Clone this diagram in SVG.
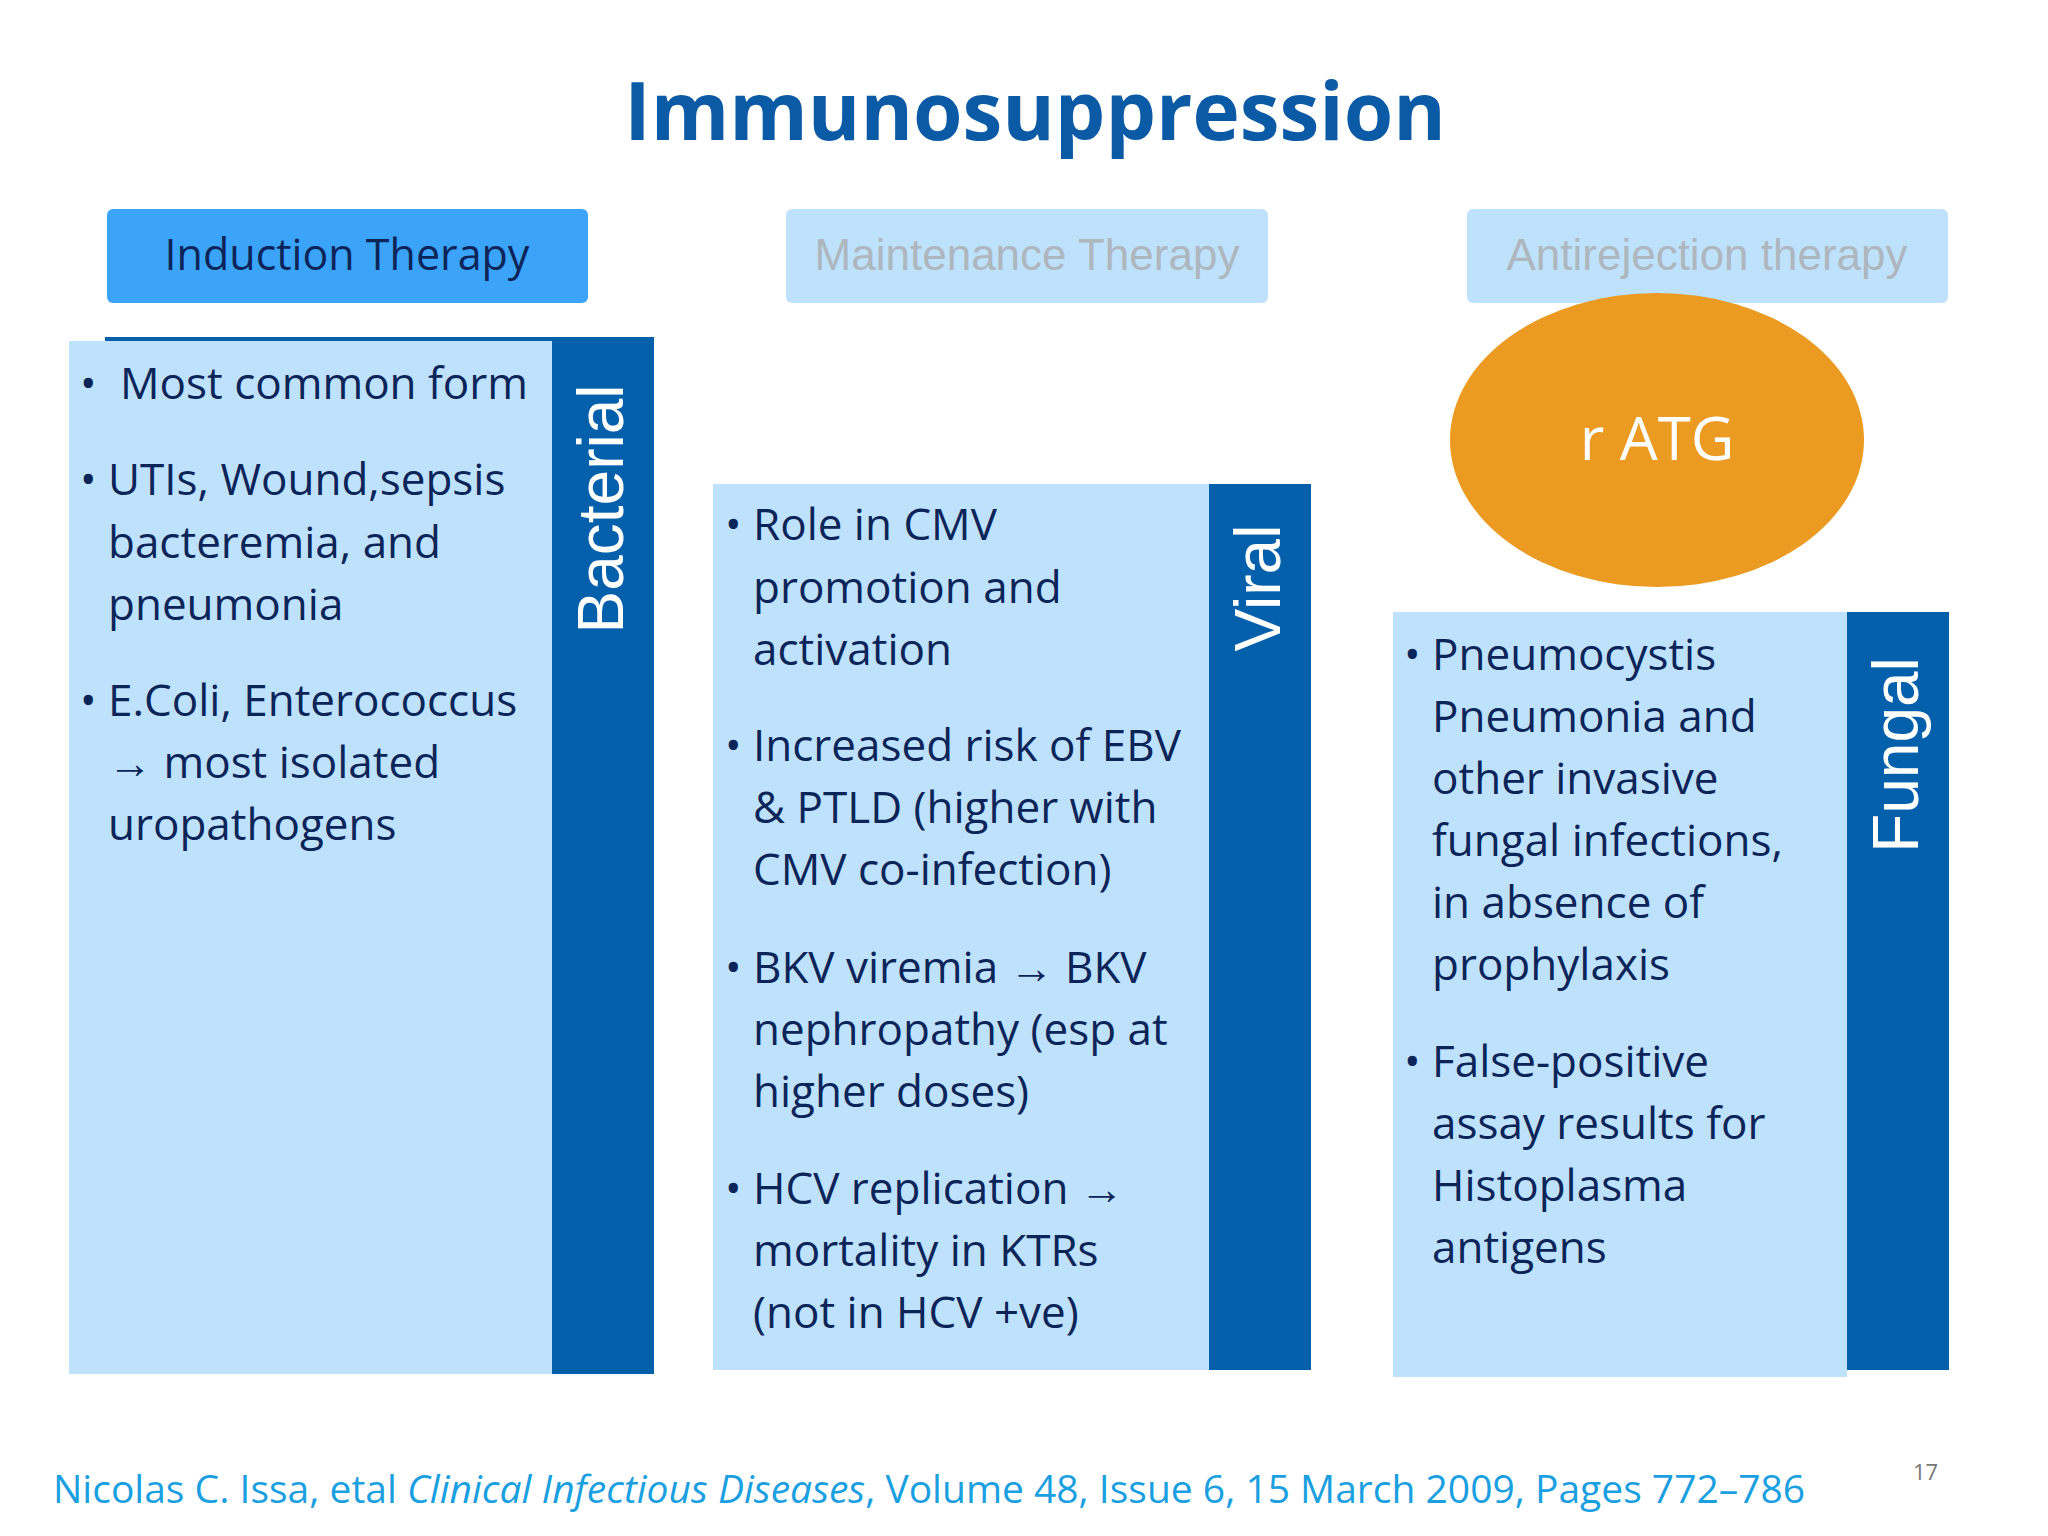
<svg xmlns="http://www.w3.org/2000/svg" width="2048" height="1536" viewBox="0 0 2048 1536">
<style>
.t{font-family:"Open Sans","Noto Sans",sans-serif;font-size:44px;fill:#0c2559}
.v{font-family:"Liberation Sans",Arial,sans-serif;font-size:64px;fill:#fff}
.h{font-family:"Liberation Sans",Arial,sans-serif;font-size:44px;fill:#aeb6be}
.lt{fill:#bfe2fc}.dk{fill:#0560ac}
</style>
<rect width="2048" height="1536" fill="#fff"/>
<text x="1035" y="140" text-anchor="middle" font-family="Open Sans,Noto Sans,sans-serif" font-weight="bold" font-size="80" fill="#0b5aa5">Immunosuppression</text>
<g id="induction"><rect x="107" y="209" width="481" height="94" rx="6" fill="#3ba4f8"/><text x="347" y="270" text-anchor="middle" class="t" style="font-size:43px">Induction Therapy</text></g>
<g id="maintenance"><rect x="786" y="209" width="482" height="94" rx="6" class="lt"/><text x="1027" y="270" text-anchor="middle" class="h">Maintenance Therapy</text></g>
<g id="antirejection"><rect x="1467" y="209" width="481" height="94" rx="6" class="lt"/><text x="1707" y="270" text-anchor="middle" class="h">Antirejection therapy</text></g>
<g id="ratg"><ellipse cx="1657" cy="440" rx="207" ry="147" fill="#eb9b22"/><text x="1657" y="460" text-anchor="middle" font-family="Open Sans,Noto Sans,sans-serif" font-size="60" fill="#fff">r ATG</text></g>
<g id="bacterial">
<rect x="69" y="341" width="483" height="1033" class="lt"/>
<rect x="105" y="337" width="549" height="4" class="dk"/>
<rect x="552" y="338" width="102" height="1036" class="dk"/>
<text class="v" transform="translate(623,509) rotate(-90)" text-anchor="middle">Bacterial</text>
<text class="t"><tspan x="80" y="399">•</tspan><tspan x="120" y="399">Most common form</tspan>
<tspan x="80" y="495">•</tspan><tspan x="108" y="495">UTIs, Wound,sepsis</tspan><tspan x="108" y="558">bacteremia, and</tspan><tspan x="108" y="620">pneumonia</tspan>
<tspan x="80" y="716">•</tspan><tspan x="108" y="716">E.Coli, Enterococcus</tspan><tspan x="108" y="778">→ most isolated</tspan><tspan x="108" y="840">uropathogens</tspan></text>
</g>
<g id="viral">
<rect x="713" y="484" width="496" height="886" class="lt"/>
<rect x="1209" y="484" width="102" height="886" class="dk"/>
<text class="v" transform="translate(1280,588) rotate(-90)" text-anchor="middle">Viral</text>
<text class="t"><tspan x="725" y="540">•</tspan><tspan x="753" y="540">Role in CMV</tspan><tspan x="753" y="603">promotion and</tspan><tspan x="753" y="665">activation</tspan>
<tspan x="725" y="761">•</tspan><tspan x="753" y="761">Increased risk of EBV</tspan><tspan x="753" y="823">&amp; PTLD (higher with</tspan><tspan x="753" y="885">CMV co-infection)</tspan>
<tspan x="725" y="983">•</tspan><tspan x="753" y="983">BKV viremia → BKV</tspan><tspan x="753" y="1045">nephropathy (esp at</tspan><tspan x="753" y="1107">higher doses)</tspan>
<tspan x="725" y="1204">•</tspan><tspan x="753" y="1204">HCV replication →</tspan><tspan x="753" y="1266">mortality in KTRs</tspan><tspan x="753" y="1328">(not in HCV +ve)</tspan></text>
</g>
<g id="fungal">
<rect x="1393" y="612" width="454" height="765" class="lt"/>
<rect x="1847" y="612" width="102" height="758" class="dk"/>
<text class="v" transform="translate(1918,755) rotate(-90)" text-anchor="middle">Fungal</text>
<text class="t"><tspan x="1404" y="670">•</tspan><tspan x="1432" y="670">Pneumocystis</tspan><tspan x="1432" y="732">Pneumonia and</tspan><tspan x="1432" y="794">other invasive</tspan><tspan x="1432" y="856">fungal infections,</tspan><tspan x="1432" y="918">in absence of</tspan><tspan x="1432" y="980">prophylaxis</tspan>
<tspan x="1404" y="1077">•</tspan><tspan x="1432" y="1077">False-positive</tspan><tspan x="1432" y="1139">assay results for</tspan><tspan x="1432" y="1201">Histoplasma</tspan><tspan x="1432" y="1263">antigens</tspan></text>
</g>
<g id="connectors"/>
<text x="53" y="1503" font-family="Open Sans,Noto Sans,sans-serif" font-size="39" fill="#1a9fe0">Nicolas C. Issa, etal <tspan font-style="italic">Clinical Infectious Diseases</tspan>, Volume 48, Issue 6, 15 March 2009, Pages 772–786</text>
<text x="1913" y="1480" font-family="Open Sans,Noto Sans,sans-serif" font-size="22" fill="#777">17</text>
</svg>
